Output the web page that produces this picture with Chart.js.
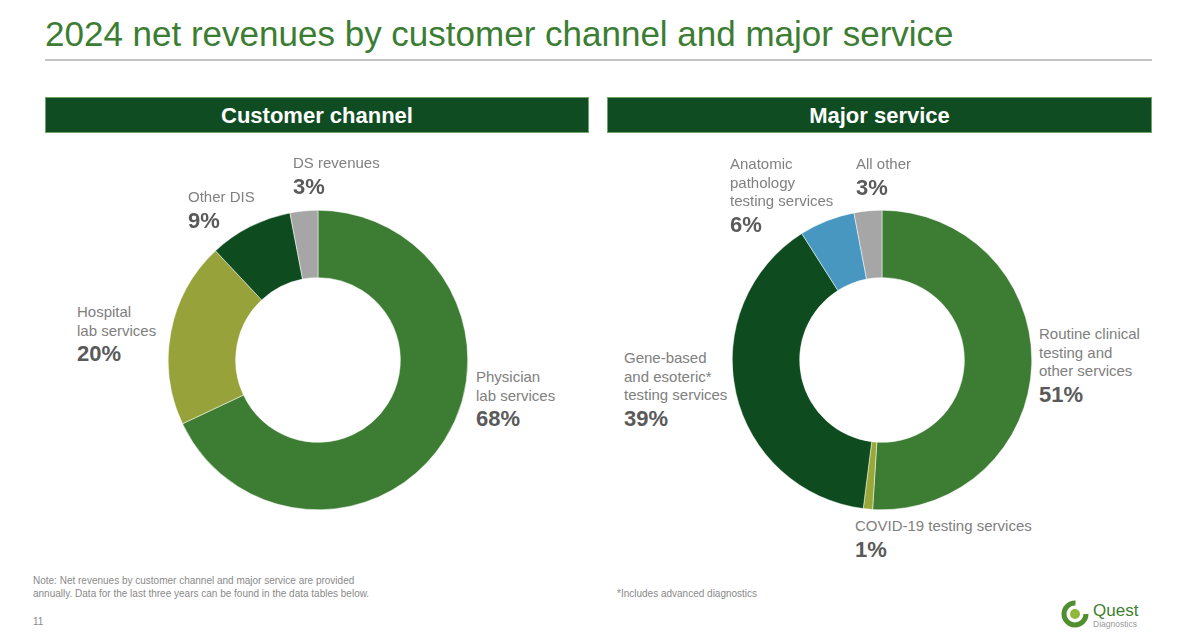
<!DOCTYPE html>
<html lang="en">
<head>
<meta charset="UTF-8">
<title>2024 net revenues by customer channel and major service</title>
<script src="https://cdn.jsdelivr.net/npm/chart.js"></script>
<style>
  body { margin: 0; width: 1197px; height: 640px; background: #fff; position: relative; overflow: hidden;
         font-family: "Liberation Sans", Arial, sans-serif; }
  #title { position: absolute; left: 45px; top: 14px; font-size: 35px; color: #3b7d32; white-space: nowrap; }
  #rule { position: absolute; left: 45px; top: 59px; width: 1107px; height: 2px; background: #c4c4c4; }
  .head { position: absolute; top: 97px; height: 34px; background: #0f4c22; border: 1px solid #6fa36a;
          color: #fff; font-weight: bold; font-size: 22px; text-align: center; line-height: 35px; }
  .chartbox { position: absolute; top: 210px; width: 300px; height: 300px; }
  .lbl { position: absolute; color: #808080; font-size: 15px; line-height: 18.5px; white-space: nowrap; }
  .lbl b { display: block; color: #5a5a5a; font-size: 22px; line-height: 28px; }
  .note { position: absolute; color: #8a8a8a; font-size: 10px; line-height: 13px; }
</style>
</head>
<body>
<div id="title">2024 net revenues by customer channel and major service</div>
<div id="rule"></div>
<div class="head" style="left:45px;width:542px;">Customer channel</div>
<div class="head" style="left:607px;width:543px;">Major service</div>

<div class="chartbox" style="left:168px;"><canvas id="channelChart" width="300" height="300"></canvas></div>
<div class="chartbox" style="left:732px;"><canvas id="serviceChart" width="300" height="300"></canvas></div>

<div id="labels"></div>

<div class="note" style="left:33px;top:574px;">Note: Net revenues by customer channel and major service are provided<br>annually. Data for the last three years can be found in the data tables below.</div>
<div class="note" style="left:33px;top:615px;">11</div>
<div class="note" style="left:617px;top:587px;">*Includes advanced diagnostics</div>

<svg style="position:absolute;left:1060px;top:598px;" width="110" height="36" viewBox="0 0 110 36">
  <circle cx="15" cy="16" r="11" fill="none" stroke="#4f8f2f" stroke-width="5" stroke-dasharray="52 17"/>
  <circle cx="15" cy="16" r="5" fill="#8fb83a"/>
  <text x="33" y="18" font-family="Liberation Sans, Arial" font-size="17" fill="#3f7f2f">Quest</text>
  <text x="33" y="29" font-family="Liberation Sans, Arial" font-size="8.5" fill="#9a9a9a">Diagnostics</text>
</svg>

<script>
// Customer channel
var channelLabels = ["Physician lab services", "Hospital lab services", "Other DIS", "DS revenues"];
var channelValues = [68, 20, 9, 3];
var channelColors = ["#3c7d33", "#97a33a", "#0e4c20", "#a6a6a6"];

// Major service
var serviceLabels = ["Routine clinical testing and other services", "COVID-19 testing services",
                     "Gene-based and esoteric* testing services", "Anatomic pathology testing services", "All other"];
var serviceValues = [51, 1, 39, 6, 3];
var serviceColors = ["#3c7d33", "#9aa83a", "#0e4c20", "#4797c0", "#a6a6a6"];

// label text lines as they wrap on the slide, with where they sit
var calloutText = [
  ["Physician", "lab services"],
  ["Hospital", "lab services"],
  ["Other DIS"],
  ["DS revenues"],
  ["Routine clinical", "testing and", "other services"],
  ["COVID-19 testing services"],
  ["Gene-based", "and esoteric*", "testing services"],
  ["Anatomic", "pathology", "testing services"],
  ["All other"]
];
var calloutValues = channelValues.concat(serviceValues);
var calloutPos = [
  [476, 368], [77, 303], [188, 188], [293, 154],
  [1039, 325], [855, 517], [624, 349], [730, 155], [856, 155]
];

var box = document.getElementById("labels");
calloutText.forEach(function(lines, i) {
  var d = document.createElement("div");
  d.className = "lbl";
  d.style.left = calloutPos[i][0] + "px";
  d.style.top = calloutPos[i][1] + "px";
  d.innerHTML = lines.join("<br>") + "<b>" + calloutValues[i] + "%</b>";
  box.appendChild(d);
});

function makeDonut(id, labels, values, colors) {
  return new Chart(document.getElementById(id), {
    type: "doughnut",
    data: {
      labels: labels,
      datasets: [{
        data: values,
        backgroundColor: colors,
        borderColor: "#ffffff",
        borderWidth: 0.5
      }]
    },
    options: {
      responsive: false,
      animation: false,
      cutout: "55%",
      layout: { padding: 0 },
      plugins: { legend: { display: false }, tooltip: { enabled: false } }
    }
  });
}

makeDonut("channelChart", channelLabels, channelValues, channelColors);
makeDonut("serviceChart", serviceLabels, serviceValues, serviceColors);
</script>
</body>
</html>
